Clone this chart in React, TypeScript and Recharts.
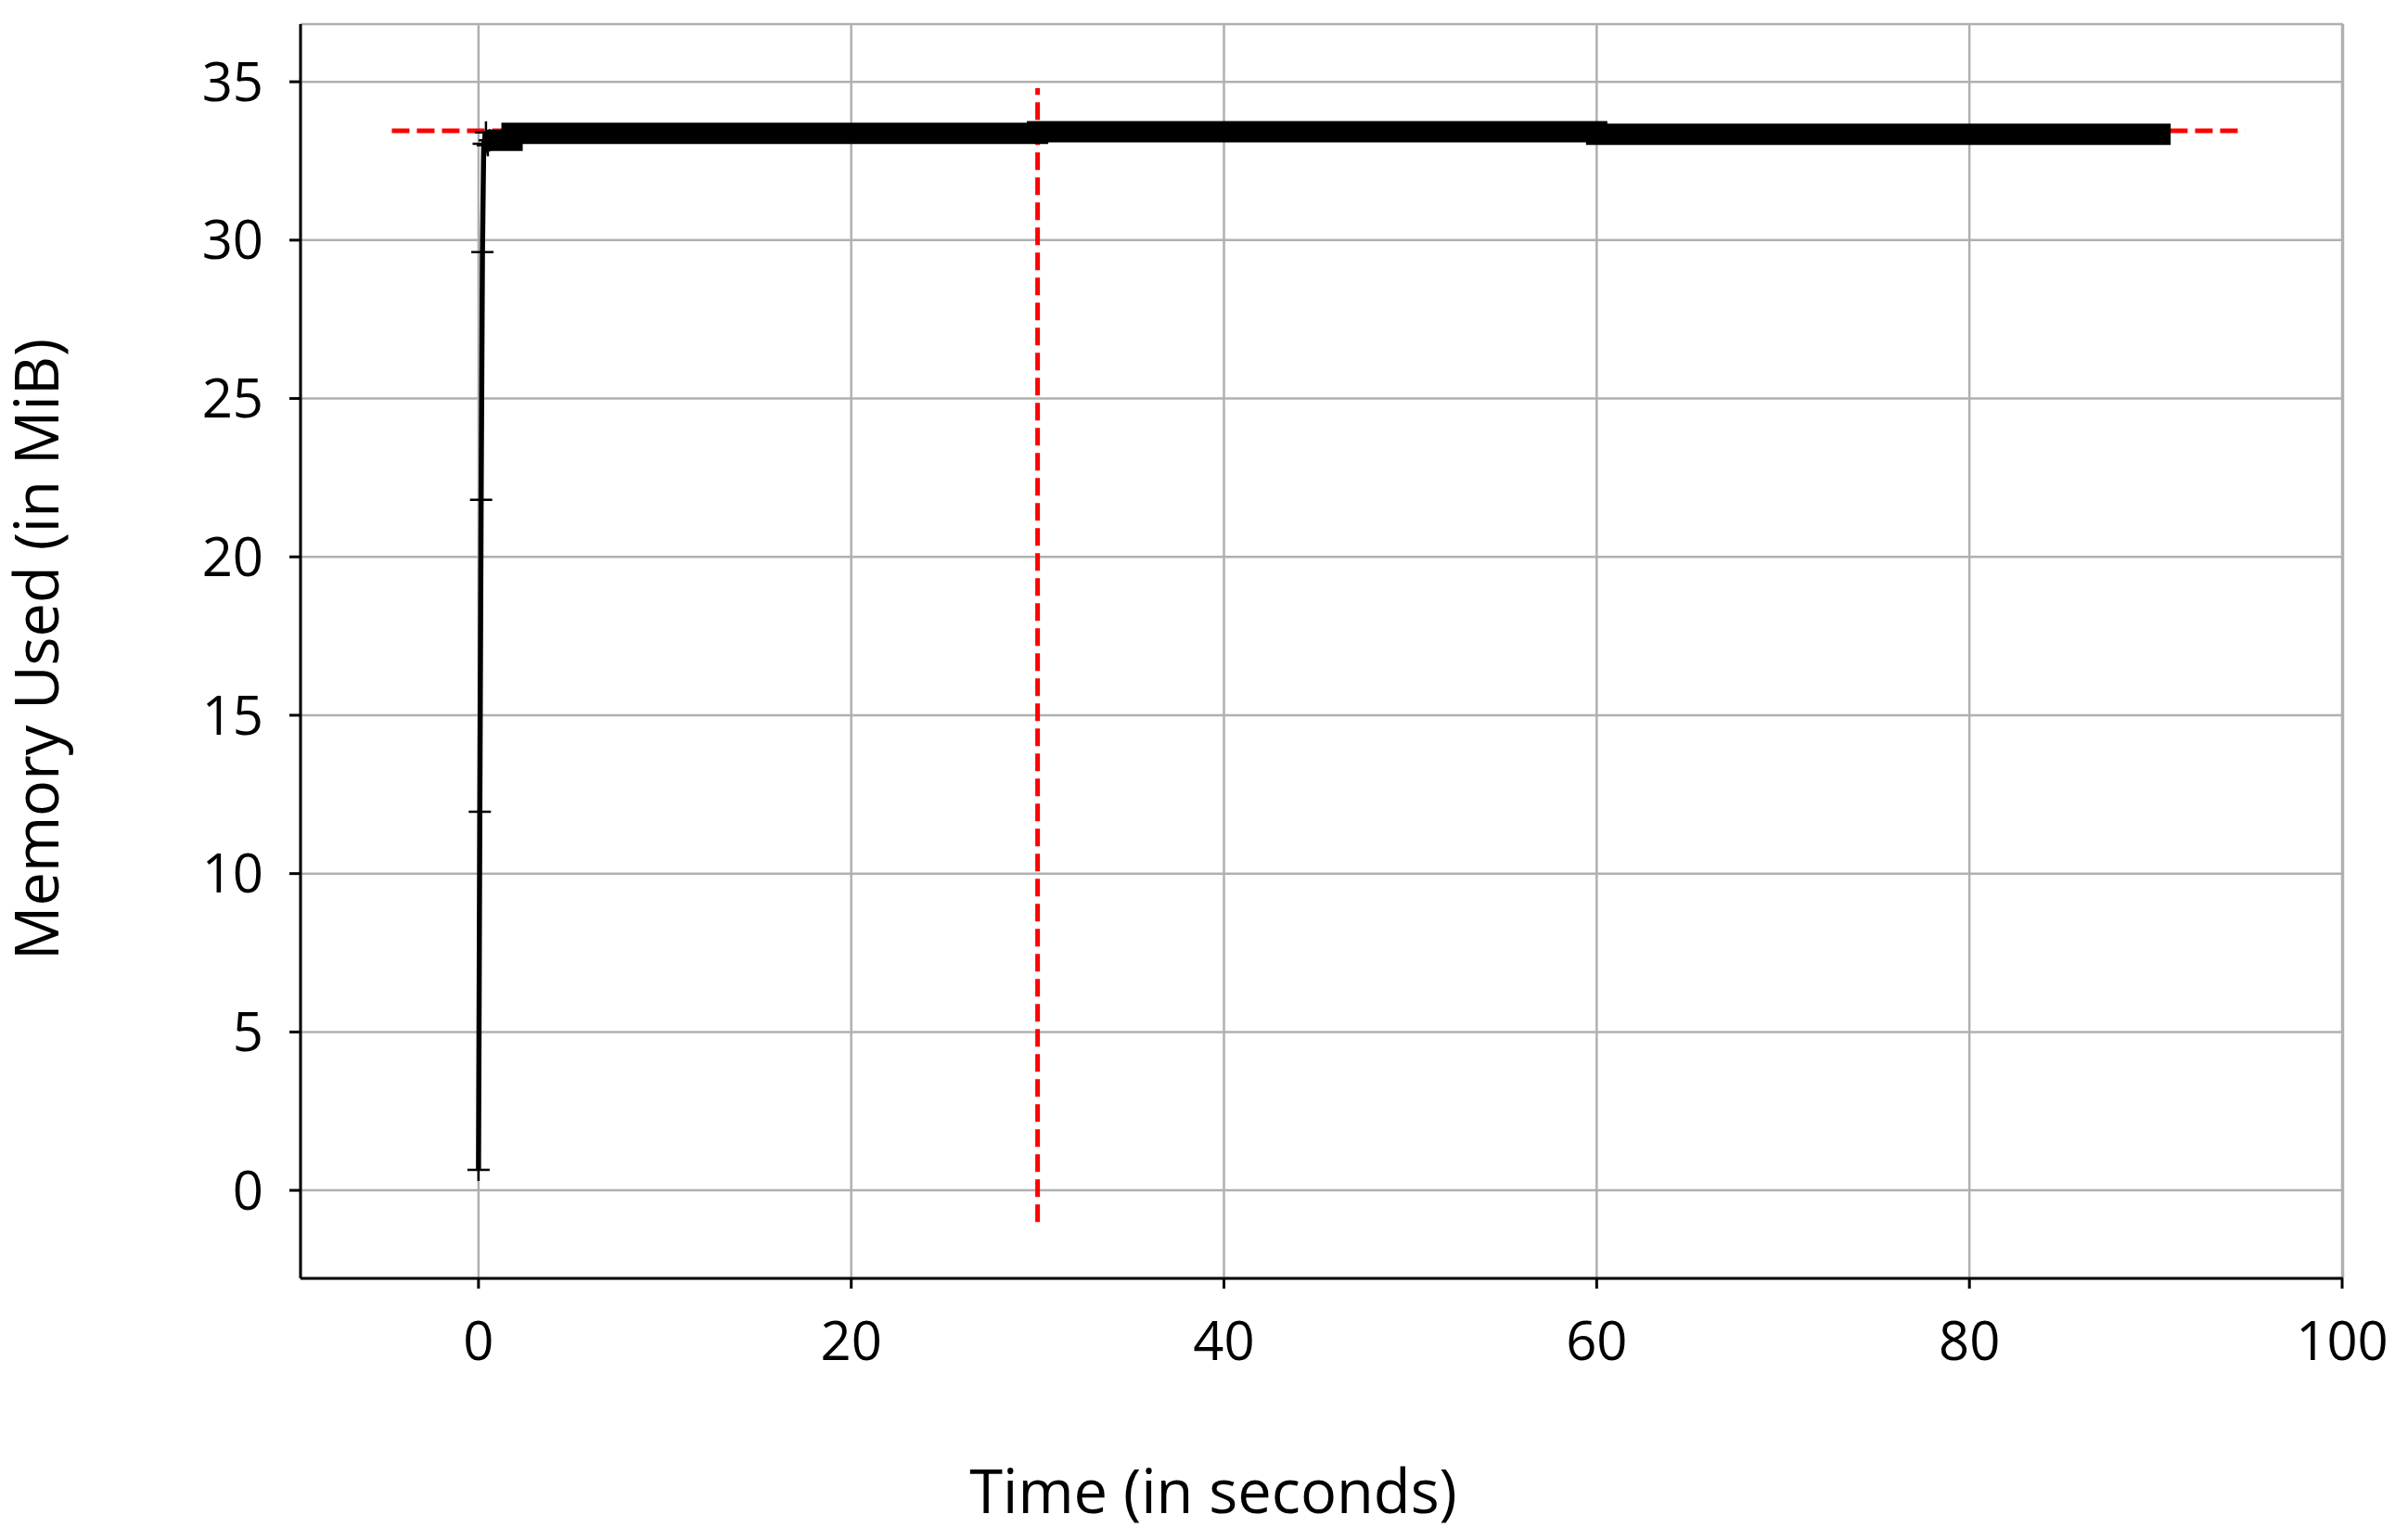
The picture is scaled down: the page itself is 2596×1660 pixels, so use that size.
import React from 'react';
import { LineChart, Line, XAxis, YAxis, CartesianGrid, ReferenceLine } from 'recharts';

// start-up samples (seconds, MiB)
const RISE_TIME = [0, 0.07, 0.14, 0.21, 0.28, 0.4, 0.5, 0.6];
const RISE_MEM = [0.65, 11.95, 21.8, 29.62, 33.04, 33.4, 33.0, 33.15];
// steady-state readings (dense samples merge into one band)
const PLATEAU_TIME = [0.35, 1.8, 1.8, 30, 30, 60, 60, 90.8];
const PLATEAU_MEM = [33.15, 33.15, 33.37, 33.37, 33.42, 33.42, 33.34, 33.34];

const X_TICKS = [0, 20, 40, 60, 80, 100];
const Y_TICKS = [0, 5, 10, 15, 20, 25, 30, 35];
const X_DOMAIN: [number, number] = [-9.55, 100.05];
const Y_DOMAIN: [number, number] = [-2.78, 36.82];

const MAX_LEVEL = 33.45;
const LEVEL_SPAN = [-4.65, 94.8];
const CUTOFF_TIME = 30;
const CUTOFF_SPAN = [-1, 34.8];

const riseData = RISE_TIME.map((t, i) => ({ t, mem: RISE_MEM[i] }));
const plateauData = PLATEAU_TIME.map((t, i) => ({ t, mem: PLATEAU_MEM[i] }));

const FONT = '"Open Sans", "Noto Sans", sans-serif';
const tickStyle = { fill: '#000', fontSize: 58, fontFamily: FONT };

const PlusDot = (props: any) => {
  const { cx, cy } = props;
  if (cx == null || cy == null) return null;
  return (
    <path d={`M${cx - 12},${cy}H${cx + 12}M${cx},${cy - 12}V${cy + 12}`} stroke="#000" strokeWidth={2.5} fill="none" />
  );
};

export default function App() {
  return (
    <div style={{ position: 'absolute', left: 0, top: 0, background: '#fff' }}>
      <LineChart width={2596} height={1660} margin={{ top: 26, right: 70, bottom: 0, left: 0 }}>
        <CartesianGrid stroke="#b0b0b0" strokeWidth={2.5} />
        <XAxis
          dataKey="t"
          type="number"
          domain={X_DOMAIN}
          ticks={X_TICKS}
          allowDataOverflow
          height={282}
          tick={tickStyle}
          tickSize={11}
          tickMargin={36}
          tickLine={{ stroke: '#000', strokeWidth: 3 }}
          axisLine={{ stroke: '#000', strokeWidth: 3 }}
          label={() => (
            <text x={1308} y={1631} textAnchor="middle" fontSize={65} fontFamily={FONT} fill="#000">
              Time (in seconds)
            </text>
          )}
        />
        <XAxis xAxisId="top" orientation="top" type="number" domain={X_DOMAIN} allowDataOverflow height={0} tick={false} tickLine={false} axisLine={{ stroke: '#000', strokeWidth: 3 }} />
        <YAxis
          type="number"
          domain={Y_DOMAIN}
          ticks={Y_TICKS}
          allowDataOverflow
          width={324}
          tick={tickStyle}
          tickSize={12}
          tickMargin={28}
          tickLine={{ stroke: '#000', strokeWidth: 3 }}
          axisLine={{ stroke: '#000', strokeWidth: 3 }}
          label={() => (
            <text x={63} y={700} transform="rotate(-90, 63, 700)" textAnchor="middle" fontSize={65} fontFamily={FONT} fill="#000">
              Memory Used (in MiB)
            </text>
          )}
        />
        <YAxis yAxisId="right" orientation="right" type="number" domain={Y_DOMAIN} allowDataOverflow width={0} tick={false} tickLine={false} axisLine={{ stroke: '#000', strokeWidth: 3 }} />
        <ReferenceLine
          segment={[{ x: LEVEL_SPAN[0], y: MAX_LEVEL }, { x: LEVEL_SPAN[1], y: MAX_LEVEL }]}
          stroke="#ff0000"
          strokeWidth={5}
          strokeDasharray="19 8"
          ifOverflow="visible"
        />
        <ReferenceLine
          segment={[{ x: CUTOFF_TIME, y: CUTOFF_SPAN[0] }, { x: CUTOFF_TIME, y: CUTOFF_SPAN[1] }]}
          stroke="#ff0000"
          strokeWidth={5}
          strokeDasharray="19 8"
          ifOverflow="visible"
        />
        <Line
          data={plateauData}
          dataKey="mem"
          type="linear"
          stroke="#000"
          strokeWidth={23}
          strokeLinecap="butt"
          dot={false}
          isAnimationActive={false}
        />
        <Line
          data={riseData}
          dataKey="mem"
          type="linear"
          stroke="#000"
          strokeWidth={5.5}
          dot={(p: any) => <PlusDot key={`d${p.index}`} {...p} />}
          isAnimationActive={false}
        />
      </LineChart>
    </div>
  );
}
